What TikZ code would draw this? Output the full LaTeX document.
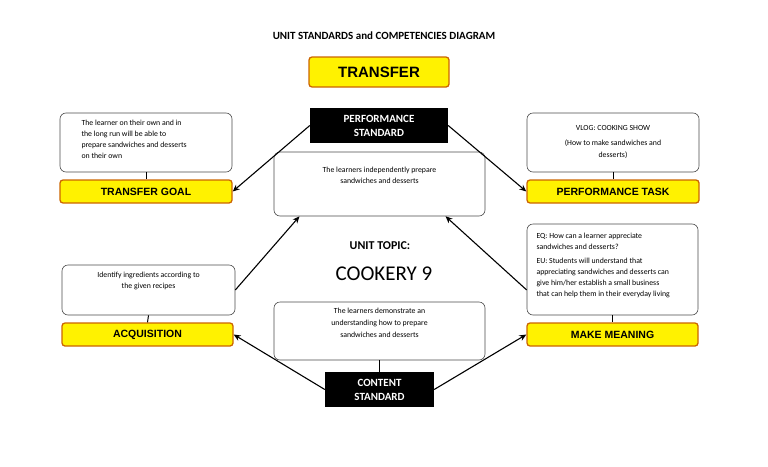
\documentclass[tikz,border=0pt]{standalone}
\usepackage{fontspec}
\setmainfont{Carlito}
\newfontfamily\arialf{Liberation Sans}
\usetikzlibrary{arrows.meta}
\begin{document}
\begin{tikzpicture}[x=1pt,y=-1pt,
  txt/.style={draw=black!70,line width=0.6pt,rounded corners=6pt,fill=white,font=\fontsize{7.8}{10}\selectfont,align=left},
  yel/.style={draw=orange!80!black,line width=1.3pt,fill=yellow,rounded corners=3pt,font=\arialf\bfseries\fontsize{10.5}{12}\selectfont},
  blk/.style={fill=black,text=white,font=\bfseries\fontsize{11}{14}\selectfont,align=center},
  arr/.style={-{Stealth[length=7pt,width=6pt]},line width=1.1pt}]
\useasboundingbox (0,0) rectangle (768,466);
\node (title) at (384,36) {\bfseries\fontsize{11}{13}\selectfont UNIT STANDARDS and COMPETENCIES DIAGRAM};
\node[yel,minimum width=140pt,minimum height=30pt,font=\arialf\bfseries\fontsize{15}{17}\selectfont] (transfer) at (379,72) {TRANSFER};
\node[blk,minimum width=138pt,minimum height=35pt] (ps) at (379,125.5) {PERFORMANCE\\STANDARD};
\node[txt,minimum width=172pt,minimum height=59pt] (tgtxt) at (146,142.5) {};
\node[font=\fontsize{7.8}{11}\selectfont,align=left,anchor=north west] (tgt) at (78,117) {The learner on their own and in\\the long run will be able to\\prepare sandwiches and desserts\\on their own};
\node[yel,minimum width=172pt,minimum height=23pt] (tg) at (146,191.5) {TRANSFER GOAL};
\node[txt,minimum width=211pt,minimum height=64pt,align=center,font=\fontsize{7.8}{11.5}\selectfont] (ctop) at (379.5,184) {The learners independently prepare\\sandwiches and desserts\\[6pt]};
\node[txt,minimum width=172pt,minimum height=59pt,align=center,font=\fontsize{7.8}{12}\selectfont] (pttxt) at (613,142.5) {VLOG: COOKING SHOW\\[3pt](How to make sandwiches and\\desserts)};
\node[yel,minimum width=172pt,minimum height=23pt] (pt) at (613,191.5) {PERFORMANCE TASK};
\node (ut) at (380,246) {\bfseries\fontsize{12}{14}\selectfont UNIT TOPIC:};
\node (ck) at (384,274) {\fontsize{21}{24}\selectfont COOKERY 9};
\node[txt,minimum width=173pt,minimum height=50pt,align=center,font=\fontsize{7.8}{11}\selectfont] (acqtxt) at (148.5,290) {Identify ingredients according to\\the given recipes\\[8pt]};
\node[yel,minimum width=171pt,minimum height=23pt] (acq) at (147.5,334.5) {ACQUISITION};
\node[txt,minimum width=171pt,minimum height=91pt] (mmtxt) at (612.5,269.5) {};
\node[font=\fontsize{7.8}{11}\selectfont,align=left,anchor=north west] (mmt) at (533,230) {EQ: How can a learner appreciate\\sandwiches and desserts?\\[3pt]EU: Students will understand that\\appreciating sandwiches and desserts can\\give him/her establish a small business\\that can help them in their everyday living};
\node[yel,minimum width=171pt,minimum height=23pt] (mm) at (612.5,334.5) {MAKE MEANING};
\node[txt,minimum width=211pt,minimum height=58pt,align=center,font=\fontsize{7.8}{12}\selectfont] (cbot) at (379.5,331) {The learners demonstrate an\\understanding how to prepare\\sandwiches and desserts\\[4pt]};
\node[blk,minimum width=109pt,minimum height=35pt] (cs) at (379.5,389.5) {CONTENT\\STANDARD};
\draw[line width=1pt] (tgtxt.south) -- (tg.north);
\draw[line width=1pt] (pttxt.south) -- (pt.north);
\draw[line width=1pt] (acqtxt.south) -- (acq.north);
\draw[line width=1pt] (mmtxt.south) -- (mm.north);
\draw[line width=1pt] (cbot.south) -- (cs.north);
\draw[arr] (ps.west) -- (tg.east);
\draw[arr] (ps.east) -- (pt.west);
\draw[arr] (cs.west) -- (acq.east);
\draw[arr] (cs.east) -- (mm.west);
\draw[arr] (acqtxt.east) -- ([xshift=-80pt]ctop.south);
\draw[arr] (mmtxt.west |- acqtxt.east) -- ([xshift=66pt]ctop.south);
\end{tikzpicture}
\end{document}
